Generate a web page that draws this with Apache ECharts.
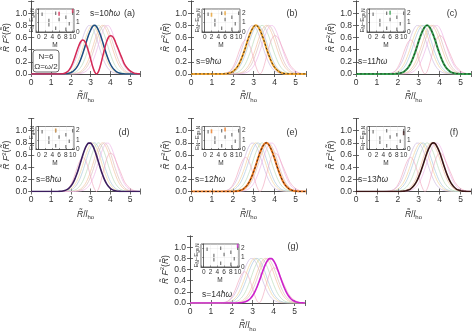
<!DOCTYPE html>
<html>
<head>
<meta charset="utf-8">
<script src="https://cdn.jsdelivr.net/npm/echarts@6/dist/echarts.min.js"></script>
<style>
  html, body { margin: 0; padding: 0; background: #fff; }
  #chart { width: 474px; height: 333px; }
</style>
</head>
<body>
<div id="chart"></div>
<script>
// ---------- data ----------
// sampling abscissa R/l_ho shared by every density curve
const R_GRID = [0, 1.3, 1.4, 1.5, 1.6, 1.7, 1.8, 1.9, 2.0, 2.1, 2.2, 2.3, 2.4, 2.5, 2.6, 2.7, 2.8, 2.9, 3.0, 3.1, 3.2,
  3.3, 3.4, 3.5, 3.6, 3.7, 3.8, 3.9, 4.0, 4.1, 4.2, 4.3, 4.4, 4.5, 4.6, 4.7, 4.8, 4.9, 5.0, 5.1, 5.2, 5.3, 5.4, 5.5];

// R F^2(R) for each s (in units of hbar*omega)
const DENS_S8 = [0, 0, .002, .004, .009, .017, .031, .053, .086, .134, .20, .282, .379, .485, .591, .686, .757, .795,
  .795, .757, .686, .591, .485, .379, .282, .20, .134, .086, .053, .031, .017, .009, .004, .002, 0, 0, 0, 0, 0, 0, 0, 0, 0, 0];
const DENS_S9 = [0, 0, 0, 0, .003, .006, .012, .023, .04, .07, .11, .165, .24, .33, .43, .54, .64, .72, .78, .80,
  .78, .72, .64, .54, .43, .33, .24, .165, .11, .07, .04, .023, .012, .006, .003, 0, 0, 0, 0, 0, 0, 0, 0, 0];
const DENS_S10 = [0, 0, 0, 0, 0, .003, .006, .012, .023, .04, .07, .11, .165, .24, .33, .43, .54, .64, .72, .78, .80,
  .78, .72, .64, .54, .43, .33, .24, .165, .11, .07, .04, .023, .012, .006, .003, 0, 0, 0, 0, 0, 0, 0, 0];
const DENS_S10_SPLIT = [0, 0, 0, .002, .005, .012, .03, .06, .11, .18, .27, .37, .46, .53, .56, .54, .47, .37, .25, .13, .04,
  0, .04, .14, .27, .40, .52, .60, .63, .62, .57, .49, .41, .33, .25, .17, .12, .08, .05, .03, .015, .007, .003, 0];
const DENS_S11 = [0, 0, 0, 0, 0, 0, 0, .003, .006, .012, .023, .04, .07, .11, .165, .24, .33, .43, .54, .64, .72, .78,
  .80, .78, .72, .64, .54, .43, .33, .24, .165, .11, .07, .04, .023, .012, .006, .003, 0, 0, 0, 0, 0, 0];
const DENS_S12 = [0, 0, 0, 0, 0, 0, 0, 0, 0, .003, .006, .012, .023, .04, .07, .11, .165, .24, .33, .43, .54, .64, .72,
  .78, .80, .78, .72, .64, .54, .43, .33, .24, .165, .11, .07, .04, .023, .012, .006, .003, 0, 0, 0, 0];
const DENS_S13 = [0, 0, 0, 0, 0, 0, 0, 0, 0, 0, .003, .006, .012, .023, .04, .07, .11, .165, .24, .33, .43, .54, .64,
  .72, .78, .80, .78, .72, .64, .54, .43, .33, .24, .165, .11, .07, .04, .023, .012, .006, .003, 0, 0, 0];
const DENS_S14 = [0, 0, 0, 0, 0, 0, 0, 0, 0, 0, 0, .002, .004, .009, .017, .031, .053, .086, .134, .20, .282, .379,
  .485, .591, .686, .757, .795, .795, .757, .686, .591, .485, .379, .282, .20, .134, .086, .053, .031, .017, .009,
  .004, .002, 0];

const S_VALUES = [8, 9, 10, 11, 12, 13, 14];

// excitation spectrum E_N - E_gs,N versus M (insets)
const INSET_LEVELS = [[1, 1.85], [3, 1.2], [3, 0.75], [5, 1.95], [5, 0.4], [6, 1.3], [8, 1.55], [8, 0.3], [9, 0.85], [10, 1.95]];
const MARK_A = [[6, 1.9], [10, 2.2]];
const MARK_B = [[2, 1.8], [6, 1.95]];
const MARK_C = [[6, 2.0]];
const MARK_D = [[5, 2.0]];
const MARK_E = [[2, 1.9], [6, 2.1]];
const MARK_F = [[10, 1.7]];
const MARK_G = [[10, 2.2]];

// ---------- styling ----------
const FONT = '"Liberation Sans", Arial, Helvetica, sans-serif';
const INK = '#333';
const FRAME = '#444';

const DENSITY = { 8: DENS_S8, 9: DENS_S9, 10: DENS_S10, 11: DENS_S11, 12: DENS_S12, 13: DENS_S13, 14: DENS_S14 };
const FAINT = { 8: '#cdb9e0', 9: '#f2d49c', 10: '#a9c8de', 11: '#badcba', 12: '#f3c3a0', 13: '#dcbdbd', 14: '#efb4e8' };
const FAINT_SPLIT = '#f2aac0';

const PANELS = [
  { tag: '(a)', s: '10', left: 25, top: 1, tagPos: [129.5, 14], sPos: [90, 14], marks: MARK_A, markColor: '#d42a55',
    hi: [{ data: DENS_S10, color: '#1f4f80', width: 1.5 }, { data: DENS_S10_SPLIT, color: '#d42a55', width: 1.5 }] },
  { tag: '(b)', s: '9', left: 191, top: 1, tagPos: [292, 14], sPos: [196, 62], marks: MARK_B, markColor: '#e9a030',
    hi: [{ data: DENS_S9, color: '#f2a530', width: 2, dash: '#222' }] },
  { tag: '(c)', s: '11', left: 356, top: 1, tagPos: [452, 14], sPos: [358, 62], marks: MARK_C, markColor: '#36a050',
    hi: [{ data: DENS_S11, color: '#36a050', width: 2, dash: '#1c2a1c' }] },
  { tag: '(d)', s: '8', left: 25, top: 118.5, tagPos: [124, 133], sPos: [36, 180], marks: MARK_D, markColor: '#e0a050',
    hi: [{ data: DENS_S8, color: '#3b1d5e', width: 1.6 }] },
  { tag: '(e)', s: '12', left: 191, top: 118.5, tagPos: [292, 133], sPos: [195, 180], marks: MARK_E, markColor: '#ec7a22',
    hi: [{ data: DENS_S12, color: '#ec7a22', width: 2, dash: '#2a1a10' }] },
  { tag: '(f)', s: '13', left: 356, top: 118.5, tagPos: [454, 133], sPos: [358, 180], marks: MARK_F, markColor: '#3a1515',
    hi: [{ data: DENS_S13, color: '#3a1515', width: 1.6 }] },
  { tag: '(g)', s: '14', left: 190, top: 236, tagPos: [293, 247], sPos: [202, 295], marks: MARK_G, markColor: '#cc22cc',
    hi: [{ data: DENS_S14, color: '#cc22cc', width: 1.6 }] }
];

const PW = 115, PH = 73;           // main plot size
const IW = 38, IH = 23;            // inset size

const zip = vals => R_GRID.map((r, i) => [r, vals[i]]);

const nameRich = {
  i: { fontStyle: 'italic', fontSize: 8.5, fontFamily: FONT, color: INK, lineHeight: 12 },
  n: { fontSize: 8.5, fontFamily: FONT, color: INK, lineHeight: 12 },
  sub: { fontSize: 6, fontFamily: FONT, color: INK, lineHeight: 6, verticalAlign: 'bottom' },
  sup: { fontSize: 6, fontFamily: FONT, color: INK, lineHeight: 6, verticalAlign: 'top' }
};

const grid = [], xAxis = [], yAxis = [], series = [], graphic = [];

PANELS.forEach(p => {
  const gMain = grid.length;
  grid.push({ left: p.left, top: p.top, width: PW, height: PH });
  const gIn = grid.length;
  const inL = p.left + 11, inT = p.top + 8;
  grid.push({ left: inL, top: inT, width: IW, height: IH, show: true, backgroundColor: '#fff',
    borderColor: FRAME, borderWidth: 0.8, z: 10 });

  const xMain = xAxis.length;
  xAxis.push({
    type: 'value', gridIndex: gMain, min: 0, max: 5.5, interval: 1, position: 'bottom',
    axisLine: { lineStyle: { color: FRAME, width: 0.8 } },
    axisTick: { inside: true, length: 3, lineStyle: { color: FRAME, width: 0.8 } },
    splitLine: { show: false },
    axisLabel: { fontSize: 8.5, fontFamily: FONT, color: INK, margin: 4,
      formatter: v => (v > 5.05 ? '' : String(v)) },
    name: '{i|R\u0303}{n|/}{i|l}{sub|ho}', nameLocation: 'middle', nameGap: 17,
    nameTextStyle: { rich: nameRich }
  });
  xAxis.push({
    type: 'value', gridIndex: gMain, min: 0, max: 5.5, interval: 1, position: 'top',
    axisLine: { lineStyle: { color: FRAME, width: 0.8 } },
    axisTick: { inside: true, length: 3, lineStyle: { color: FRAME, width: 0.8 } },
    axisLabel: { show: false }, splitLine: { show: false }
  });
  const xIn = xAxis.length;
  xAxis.push({
    type: 'value', gridIndex: gIn, min: -0.8, max: 10.4, minInterval: 2, maxInterval: 2, z: 11,
    axisLine: { lineStyle: { color: FRAME, width: 0.8 } },
    axisTick: { inside: true, length: 1.5, lineStyle: { color: FRAME, width: 0.6 } },
    splitLine: { show: true, lineStyle: { color: '#d8d8d8', width: 0.5, type: 'dotted' } },
    axisLabel: { fontSize: 6.5, fontFamily: FONT, color: INK, margin: 2,
      formatter: v => (Math.abs(v - Math.round(v)) < 1e-6 && Math.round(v) % 2 === 0 && v >= 0 ? String(Math.round(v)) : '') },
    name: 'M', nameLocation: 'middle', nameGap: 10,
    nameTextStyle: { fontSize: 6.5, fontFamily: FONT, color: INK }
  });

  const yMain = yAxis.length;
  yAxis.push({
    type: 'value', gridIndex: gMain, min: 0, max: 1.2, interval: 0.2, position: 'left',
    axisLine: { show: true, lineStyle: { color: FRAME, width: 0.8 } },
    axisTick: { show: true, inside: true, length: 3, lineStyle: { color: FRAME, width: 0.8 } },
    splitLine: { show: false },
    axisLabel: { fontSize: 8.5, fontFamily: FONT, color: INK, margin: 4,
      formatter: v => (v > 1.05 ? '' : v.toFixed(1)) },
    name: '{i|R\u0303 F}{sup|2}{n|(}{i|R\u0303}{n|)}', nameLocation: 'middle', nameGap: 17, nameRotate: 90,
    nameTextStyle: { rich: nameRich }
  });
  yAxis.push({
    type: 'value', gridIndex: gMain, min: 0, max: 1.2, interval: 0.2, position: 'right',
    axisLine: { show: true, lineStyle: { color: FRAME, width: 0.8 } },
    axisTick: { show: true, inside: true, length: 3, lineStyle: { color: FRAME, width: 0.8 } },
    axisLabel: { show: false }, splitLine: { show: false }
  });
  const yIn = yAxis.length;
  yAxis.push({
    type: 'value', gridIndex: gIn, min: 0, max: 2.4, interval: 1, position: 'right', z: 11,
    axisLine: { show: true, lineStyle: { color: FRAME, width: 0.8 } },
    axisTick: { show: true, inside: true, length: 1.5, lineStyle: { color: FRAME, width: 0.6 } },
    splitLine: { show: true, lineStyle: { color: '#d8d8d8', width: 0.5, type: 'dotted' } },
    axisLabel: { fontSize: 6.5, fontFamily: FONT, color: INK, margin: 2,
      formatter: v => (Math.abs(v - Math.round(v)) < 1e-6 ? String(Math.round(v)) : '') }
  });

  // faint family of all densities
  S_VALUES.forEach(s => {
    series.push({ type: 'line', xAxisIndex: xMain, yAxisIndex: yMain, data: zip(DENSITY[s]), smooth: 0.3,
      symbol: 'none', silent: true, z: 2, lineStyle: { color: FAINT[s], width: 0.8, opacity: 0.85 } });
  });
  series.push({ type: 'line', xAxisIndex: xMain, yAxisIndex: yMain, data: zip(DENS_S10_SPLIT), smooth: 0.3,
    symbol: 'none', silent: true, z: 2, lineStyle: { color: FAINT_SPLIT, width: 0.8, opacity: 0.85 } });

  // highlighted state(s) of this panel
  p.hi.forEach(h => {
    series.push({ type: 'line', xAxisIndex: xMain, yAxisIndex: yMain, data: zip(h.data), smooth: 0.3,
      symbol: 'none', silent: true, z: 3, lineStyle: { color: h.color, width: h.width } });
    if (h.dash) {
      series.push({ type: 'line', xAxisIndex: xMain, yAxisIndex: yMain, data: zip(h.data), smooth: 0.3,
        symbol: 'none', silent: true, z: 4, lineStyle: { color: h.dash, width: 0.9, type: [2, 2] } });
    }
  });

  // inset spectrum
  series.push({ type: 'scatter', xAxisIndex: xIn, yAxisIndex: yIn, data: INSET_LEVELS, symbol: 'rect',
    symbolSize: [1.2, 3.5], silent: true, z: 12, itemStyle: { color: '#555' } });
  series.push({ type: 'scatter', xAxisIndex: xIn, yAxisIndex: yIn, data: p.marks, symbol: 'rect',
    symbolSize: [1.6, 4], silent: true, z: 13, itemStyle: { color: p.markColor } });

  // inset vertical title
  graphic.push({
    type: 'text', x: inL - 5, y: inT + IH / 2, rotation: Math.PI / 2, z: 20,
    style: { text: '{b|E}{s|N}{b|\u2212E}{s|gs,N}', textAlign: 'center', textVerticalAlign: 'middle',
      rich: { b: { fontSize: 6, fontFamily: FONT, fill: INK, lineHeight: 8 },
              s: { fontSize: 4.5, fontFamily: FONT, fill: INK, lineHeight: 4, verticalAlign: 'bottom' } } }
  });
  // panel tag and s value
  graphic.push({
    type: 'text', x: p.tagPos[0], y: p.tagPos[1], z: 20,
    style: { text: p.tag, fontSize: 9, fontFamily: FONT, fill: INK, textAlign: 'center', textVerticalAlign: 'middle' }
  });
  graphic.push({
    type: 'text', x: p.sPos[0], y: p.sPos[1], z: 20,
    style: { text: '{n|s=' + p.s + '}{i|\u0127\u03c9}', textAlign: 'left', textVerticalAlign: 'middle',
      rich: { n: { fontSize: 8.5, fontFamily: FONT, fill: INK }, i: { fontSize: 8.5, fontFamily: FONT, fontStyle: 'italic', fill: INK } } }
  });
});

// particle number / rotation box in panel (a)
graphic.push({ type: 'rect', z: 20, shape: { x: 33, y: 50, width: 26, height: 22, r: 3 },
  style: { fill: '#fff', stroke: FRAME, lineWidth: 0.8 } });
graphic.push({ type: 'text', x: 46, y: 56.5, z: 21,
  style: { text: 'N=6', fontSize: 8, fontFamily: FONT, fill: INK, textAlign: 'center', textVerticalAlign: 'middle' } });
graphic.push({ type: 'text', x: 46, y: 66.5, z: 21,
  style: { text: '\u03a9=\u03c9/2', fontSize: 8, fontFamily: FONT, fill: INK, textAlign: 'center', textVerticalAlign: 'middle' } });

const chart = echarts.init(document.getElementById('chart'), null, { renderer: 'canvas' });
chart.setOption({
  animation: false,
  backgroundColor: '#fff',
  grid, xAxis, yAxis, series, graphic
});
</script>
</body>
</html>
